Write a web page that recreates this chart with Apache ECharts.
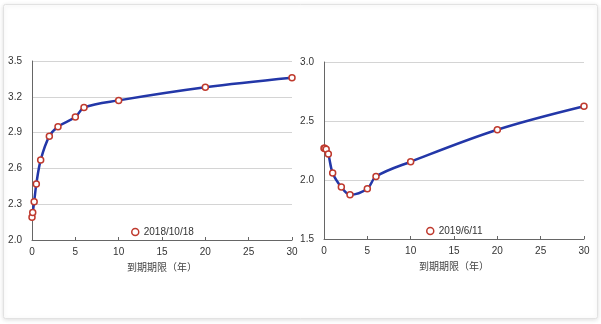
<!DOCTYPE html>
<html>
<head>
<meta charset="utf-8">
<script src="https://cdn.jsdelivr.net/npm/echarts@6/dist/echarts.min.js"></script>
<style>
  html, body { margin: 0; padding: 0; background: #fff; }
  #chart { width: 601px; height: 324px; }
</style>
</head>
<body>
<div id="chart"></div>
<script>
// maturities (years) and yields
var tenors = [0, 0.083, 0.25, 0.5, 1, 2, 3, 5, 6, 10, 20, 30];
var yields2018 = [2.19, 2.23, 2.32, 2.47, 2.67, 2.87, 2.95, 3.03, 3.11, 3.17, 3.28, 3.36];
var yields2019 = [2.27, 2.27, 2.26, 2.22, 2.06, 1.94, 1.875, 1.926, 2.03, 2.155, 2.426, 2.625];
var leftTicks = [2.0, 2.3, 2.6, 2.9, 3.2, 3.5];
var rightTicks = [1.5, 2.0, 2.5, 3.0];
var names = ['2018/10/18', '2019/6/11'];
var xName = '到期期限（年）';

function pairs(xs, ys) {
  return xs.map(function (x, i) { return [x, ys[i]]; });
}

var font = '"Liberation Sans", Arial, sans-serif';
var lineBlue = '#2337a8';
var dotRed = '#bf3a2e';

function xAxis(idx) {
  return {
    type: 'value', gridIndex: idx, min: 0, max: 30, interval: 5,
    name: xName, nameLocation: 'middle', nameGap: 22,
    nameTextStyle: { color: '#444', fontSize: 10, fontFamily: '"Noto Sans CJK SC", sans-serif' },
    axisLine: { lineStyle: { color: '#666', width: 1 } },
    axisTick: { show: true, inside: true, length: 3, lineStyle: { color: '#666' } },
    axisLabel: { color: '#333', fontSize: 10, fontFamily: font, margin: 7 },
    splitLine: { show: false }
  };
}

function yAxis(idx, ticks) {
  return {
    type: 'value', gridIndex: idx,
    min: ticks[0], max: ticks[ticks.length - 1],
    interval: ticks[1] - ticks[0],
    axisLine: { show: true, lineStyle: { color: '#666', width: 1 } },
    axisTick: { show: false },
    axisLabel: {
      color: '#333', fontSize: 10, fontFamily: font, margin: 10,
      formatter: function (v) { return v.toFixed(1); }
    },
    splitLine: { lineStyle: { color: '#d4d4d4', width: 1 } }
  };
}

function series(name, idx, data) {
  return {
    name: name, type: 'line', xAxisIndex: idx, yAxisIndex: idx,
    data: data, smooth: 0.35,
    symbol: 'circle', symbolSize: 6,
    lineStyle: { color: lineBlue, width: 2.5 },
    itemStyle: { color: '#fff', borderColor: dotRed, borderWidth: 1.5 },
    z: 3
  };
}

function legend(name, left, top) {
  return {
    data: [name], left: left, top: top,
    icon: 'circle', itemWidth: 7, itemHeight: 7, itemGap: 6,
    itemStyle: { color: '#fff', borderColor: dotRed, borderWidth: 1.5 },
    textStyle: { color: '#333', fontSize: 10, fontFamily: font }
  };
}

var chart = echarts.init(document.getElementById('chart'));
chart.setOption({
  animation: false,
  backgroundColor: '#fff',
  graphic: [{
    type: 'rect', left: 3, top: 4, z: -10, silent: true,
    shape: { width: 594, height: 314, r: 2 },
    style: { fill: '#fff', stroke: '#e2e2e2', lineWidth: 1,
             shadowBlur: 4, shadowColor: 'rgba(0,0,0,0.12)', shadowOffsetY: 1 }
  }],
  grid: [
    { left: 32, right: 309, top: 61, bottom: 84 },
    { left: 324, right: 17, top: 62, bottom: 85 }
  ],
  legend: [legend(names[0], 126, 222), legend(names[1], 421, 221)],
  xAxis: [xAxis(0), xAxis(1)],
  yAxis: [yAxis(0, leftTicks), yAxis(1, rightTicks)],
  series: [
    series(names[0], 0, pairs(tenors, yields2018)),
    series(names[1], 1, pairs(tenors, yields2019))
  ]
});
</script>
</body>
</html>
